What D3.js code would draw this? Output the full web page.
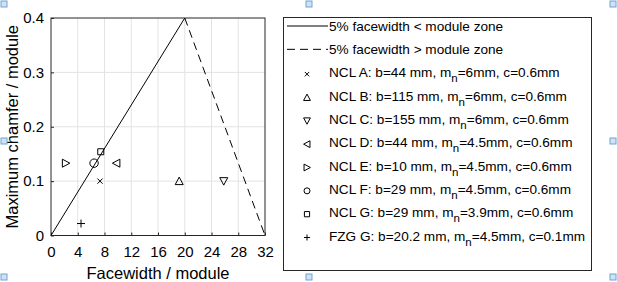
<!DOCTYPE html>
<html>
<head>
<meta charset="utf-8">
<script src="https://cdn.jsdelivr.net/npm/d3@7"></script>
<style>
  body { margin: 0; background: #fff; }
  text { font-family: "Liberation Sans", Arial, sans-serif; fill: #000; }
</style>
</head>
<body>
<div id="chart"></div>
<script>
// ---- data ----
const names = ["NCL A", "NCL B", "NCL C", "NCL D", "NCL E", "NCL F", "NCL G", "FZG G"]
const labelHead = ["NCL A: b=44 mm, m", "NCL B: b=115 mm, m", "NCL C: b=155 mm, m", "NCL D: b=44 mm, m",
                   "NCL E: b=10 mm, m", "NCL F: b=29 mm, m", "NCL G: b=29 mm, m", "FZG G: b=20.2 mm, m"]
const labelTail = ["=6mm, c=0.6mm", "=6mm, c=0.6mm", "=6mm, c=0.6mm", "=4.5mm, c=0.6mm",
                   "=4.5mm, c=0.6mm", "=4.5mm, c=0.6mm", "=3.9mm, c=0.6mm", "=4.5mm, c=0.1mm"]
const markers = ["x", "up", "down", "left", "right", "circle", "square", "plus"]
const faceRatio = [7.33, 19.17, 25.83, 9.78, 2.22, 6.44, 7.44, 4.49]
const chamferRatio = [0.1, 0.1, 0.1, 0.133, 0.133, 0.133, 0.154, 0.022]
const zoneLow = [[0, 0], [20, 0.4]]
const zoneHigh = [[20, 0.4], [32, 0]]
const xTicks = [0, 4, 8, 12, 16, 20, 24, 28, 32]
const yTicks = [0, 0.1, 0.2, 0.3, 0.4]

const W = 617, H = 282
const margin = { top: 18, left: 51 }
const pw = 214, ph = 217.5

const svg = d3.select("#chart").append("svg")
    .attr("width", W).attr("height", H)

const x = d3.scaleLinear().domain([0, 32]).range([margin.left, margin.left + pw])
const y = d3.scaleLinear().domain([0, 0.4]).range([margin.top + ph, margin.top])

// marker paths, s = half size
function markerPath(type, s) {
    const h = s * 0.87
    switch (type) {
        case "x": return `M${-s},${-s}L${s},${s}M${-s},${s}L${s},${-s}`
        case "plus": return `M${-s},0L${s},0M0,${-s}L0,${s}`
        case "up": return `M0,${-s}L${s},${h}L${-s},${h}Z`
        case "down": return `M0,${s}L${s},${-h}L${-s},${-h}Z`
        case "left": return `M${-s},0L${h},${-s}L${h},${s}Z`
        case "right": return `M${s},0L${-h},${-s}L${-h},${s}Z`
        case "square": return `M${-s},${-s}H${s}V${s}H${-s}Z`
        case "circle": return `M${s},0A${s},${s} 0 1 1 ${-s},0A${s},${s} 0 1 1 ${s},0Z`
    }
}
const plotSize = { x: 2.6, plus: 4, up: 4, down: 4, left: 4, right: 4, square: 3, circle: 4.2 }
const legSize = { x: 2.2, plus: 3, up: 3.4, down: 3.4, left: 3.4, right: 3.4, square: 2.6, circle: 3 }

// grid
svg.append("g").selectAll("line").data(xTicks.slice(1, -1)).enter().append("line")
    .attr("x1", d => x(d)).attr("x2", d => x(d))
    .attr("y1", margin.top).attr("y2", margin.top + ph)
    .attr("stroke", "#e3e3e3").attr("stroke-width", 1)
svg.append("g").selectAll("line").data(yTicks.slice(1, -1)).enter().append("line")
    .attr("x1", margin.left).attr("x2", margin.left + pw)
    .attr("y1", d => y(d)).attr("y2", d => y(d))
    .attr("stroke", "#e3e3e3").attr("stroke-width", 1)

// axes
const xAxis = svg.append("g")
    .attr("transform", "translate(0," + (margin.top + ph) + ")")
    .call(d3.axisBottom(x).tickValues(xTicks).tickSize(-3).tickPadding(8).tickFormat(d3.format("d")))
const yAxis = svg.append("g")
    .attr("transform", "translate(" + margin.left + ",0)")
    .call(d3.axisLeft(y).tickValues(yTicks).tickSize(-3).tickPadding(7).tickFormat(d => d === 0 ? "0" : d3.format(".1f")(d)))
for (const ax of [xAxis, yAxis]) {
    ax.select(".domain").remove()
    ax.selectAll(".tick line").attr("stroke", "#262626")
    ax.selectAll("text").attr("font-size", 15).attr("font-family", "Liberation Sans, Arial, sans-serif").attr("fill", "#000")
}
xAxis.selectAll("text").attr("dy", "0.9em")

svg.append("rect")
    .attr("x", margin.left).attr("y", margin.top)
    .attr("width", pw).attr("height", ph)
    .attr("fill", "none").attr("stroke", "#262626").attr("stroke-width", 1)

// zone lines
const line = d3.line().x(d => x(d[0])).y(d => y(d[1]))
svg.append("path").attr("d", line(zoneLow))
    .attr("fill", "none").attr("stroke", "#000").attr("stroke-width", 1)
svg.append("path").attr("d", line(zoneHigh))
    .attr("fill", "none").attr("stroke", "#000").attr("stroke-width", 1)
    .attr("stroke-dasharray", "8,5")

// points
svg.append("g").selectAll("path").data(names).enter().append("path")
    .attr("transform", (d, i) => "translate(" + x(faceRatio[i]) + "," + y(chamferRatio[i]) + ")")
    .attr("d", (d, i) => markerPath(markers[i], plotSize[markers[i]]))
    .attr("fill", "none").attr("stroke", "#000").attr("stroke-width", 1)

// axis titles
svg.append("text")
    .attr("x", margin.left + pw / 2).attr("y", 279)
    .attr("text-anchor", "middle").attr("font-size", 16.5)
    .text("Facewidth / module")
svg.append("text")
    .attr("transform", "translate(18," + (margin.top + ph / 2) + ") rotate(-90)")
    .attr("text-anchor", "middle").attr("font-size", 16.5)
    .text("Maximum chamfer / module")

// legend
const leg = svg.append("g")
leg.append("rect")
    .attr("x", 283.5).attr("y", 17.5).attr("width", 308).attr("height", 253)
    .attr("fill", "#fff").attr("stroke", "#262626").attr("stroke-width", 1)

const rowY = d3.scaleLinear().domain([0, 9]).range([26, 236])
const textX = 329
const fs = 13.6
leg.append("line").attr("x1", 287).attr("x2", 328).attr("y1", rowY(0)).attr("y2", rowY(0))
    .attr("stroke", "#000")
leg.append("line").attr("x1", 287).attr("x2", 328).attr("y1", rowY(1)).attr("y2", rowY(1))
    .attr("stroke", "#000").attr("stroke-dasharray", "8,5")
leg.append("text").attr("x", textX).attr("y", rowY(0)).attr("dy", "0.35em")
    .attr("font-size", fs).text("5% facewidth < module zone")
leg.append("text").attr("x", textX).attr("y", rowY(1)).attr("dy", "0.35em")
    .attr("font-size", fs).text("5% facewidth > module zone")

const rows = leg.selectAll(".entry").data(names).enter().append("g")
    .attr("class", "entry")
    .attr("transform", (d, i) => "translate(0," + rowY(i + 2) + ")")
rows.append("path")
    .attr("transform", "translate(307,1.5)")
    .attr("d", (d, i) => markerPath(markers[i], legSize[markers[i]]))
    .attr("fill", "none").attr("stroke", "#000").attr("stroke-width", 1)
const lt = rows.append("text").attr("x", textX).attr("dy", "0.35em").attr("font-size", fs)
lt.append("tspan").text((d, i) => labelHead[i])
lt.append("tspan").attr("dy", 5).attr("font-size", 11.5).text("n")
lt.append("tspan").attr("dy", -5).text((d, i) => labelTail[i])

// selection handles
const hx = [4, 309, 613], hy = [4, 141, 277]
const handles = []
hx.forEach(a => hy.forEach(b => { if (!(a === 309 && b === 141)) handles.push([a, b]) }))
svg.append("g").selectAll("rect").data(handles).enter().append("rect")
    .attr("x", d => d[0] - 3).attr("y", d => d[1] - 3)
    .attr("width", 6).attr("height", 6)
    .attr("fill", "#cfe3f7").attr("stroke", "#6fa3d6").attr("stroke-width", 1)
</script>
</body>
</html>
